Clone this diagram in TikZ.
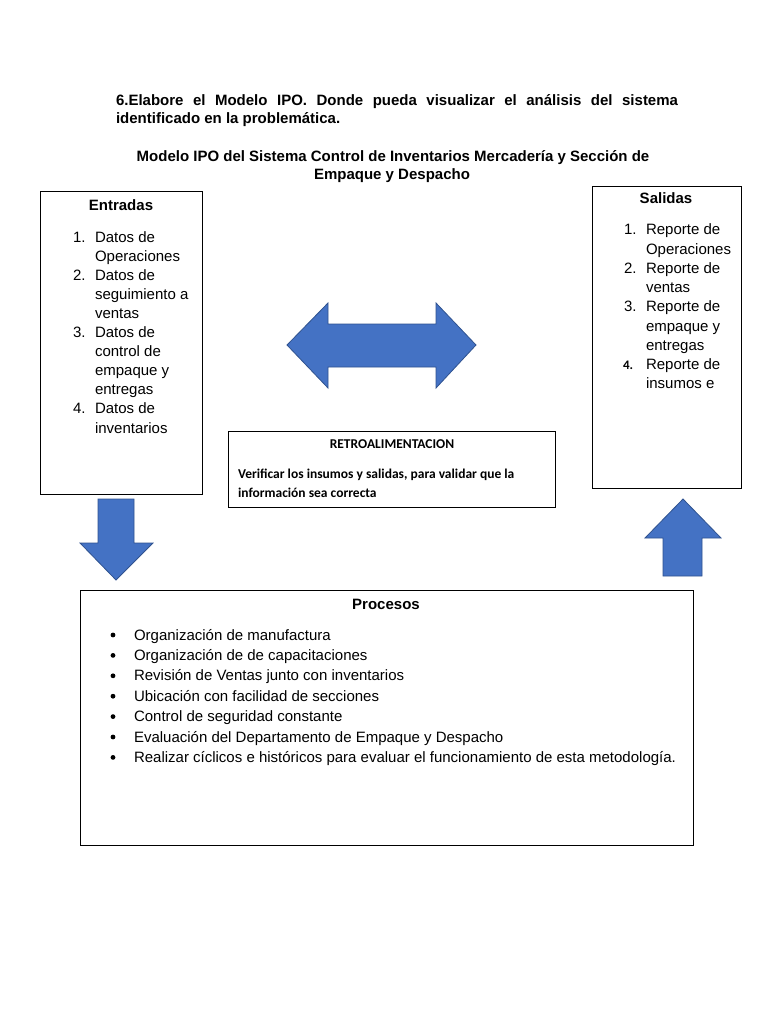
\documentclass[tikz,border=0pt]{standalone}
\usepackage{fontspec}
\setmainfont{Liberation Sans}
\newfontfamily\calfont{Carlito}
\begin{document}
\begin{tikzpicture}[x=1pt,y=-1pt,
  every node/.style={inner sep=0pt,outer sep=0pt},
  txt/.style={anchor=base west,font=\fontsize{15}{18}\selectfont},
  num/.style={anchor=base west,font=\fontsize{15}{18}\selectfont},
  ttl/.style={anchor=base,font=\bfseries\fontsize{15}{18}\selectfont},
  hdr/.style={anchor=base west,font=\bfseries\fontsize{15}{18}\selectfont},
  retro/.style={anchor=base west,font=\calfont\bfseries\fontsize{13.5}{15}\selectfont},
  boxst/.style={draw=black,line width=1pt},
  arrowst/.style={fill=arrowblue,draw=arrowedge,line width=0.8pt,line join=miter}]
\definecolor{arrowblue}{HTML}{4472C4}
\definecolor{arrowedge}{HTML}{2F528F}
\useasboundingbox[fill=white] (0,0) rectangle (768,1024);

% header
\node[hdr] (h1) at (116,106) {\makebox[562pt][s]{6.Elabore el Modelo IPO. Donde pueda visualizar el análisis del sistema}};
\node[hdr] (h2) at (116,124) {identificado en la problemática.};
\node[ttl] (t1) at (393,162) {Modelo IPO del Sistema Control de Inventarios Mercadería y Sección de};
\node[ttl] (t2) at (392,180) {Empaque y Despacho};

% Entradas box
\draw[boxst] (40,192) rectangle (202,494);
\node[ttl] (inT) at (121,211) {Entradas};
\foreach \n/\t [count=\i from 0] in {1./Datos de, /Operaciones, 2./Datos de, /seguimiento a, /ventas, 3./Datos de, /control de, /empaque y, /entregas, 4./Datos de, /inventarios}{
  \node[num] (inN\i) at (73,242+19.1*\i) {\n};
  \node[txt] (inL\i) at (95,242+19.1*\i) {\t};
}

% Salidas box
\draw[boxst] (592,187) rectangle (741,488);
\node[ttl] (outT) at (666,204) {Salidas};
\foreach \n/\t [count=\i from 0] in {1./Reporte de, /Operaciones, 2./Reporte de, /ventas, 3./Reporte de, /empaque y, /entregas}{
  \node[num] (outN\i) at (624,235+19.2*\i) {\n};
  \node[txt] (outL\i) at (646,235+19.2*\i) {\t};
}
\node[anchor=base west,font=\calfont\bfseries\fontsize{13}{15}\selectfont] (outN7) at (623,369.4) {4.};
\node[txt] (outL7) at (646,369.4) {Reporte de};
\node[txt] (outL8) at (646,388.6) {insumos e};

% double arrow
\draw[arrowst] (287,345) -- (328,303) -- (328,324) -- (436,324) -- (436,303) -- (476,345)
  -- (436,388) -- (436,367) -- (328,367) -- (328,388) -- cycle;

% Retroalimentacion box
\draw[boxst] (228,431) rectangle (555,507);
\node[anchor=base,font=\calfont\bfseries\fontsize{13.5}{15}\selectfont] (rT) at (392,448) {RETROALIMENTACION};
\node[retro] (r1) at (238,478) {Verificar los insumos y salidas, para validar que la};
\node[retro] (r2) at (238,497) {información sea correcta};

% down arrow
\draw[arrowst] (98,499) -- (134,499) -- (134,543) -- (153,543) -- (116,580) -- (80,543) -- (98,543) -- cycle;

% up arrow
\draw[arrowst] (663,576) -- (702,576) -- (702,538) -- (721,538) -- (683,499) -- (645,538) -- (663,538) -- cycle;

% Procesos box
\draw[boxst] (80,590) rectangle (693,845);
\node[ttl] (pT) at (386,609) {Procesos};
\foreach \t [count=\i from 0] in {Organización de manufactura, Organización de de capacitaciones, Revisión de Ventas junto con inventarios, Ubicación con facilidad de secciones, Control de seguridad constante, Evaluación del Departamento de Empaque y Despacho, Realizar cíclicos e históricos para evaluar el funcionamiento de esta metodología.}{
  \fill (113,635+20.4*\i) circle (2.4);
  \node[txt] (pL\i) at (134,640+20.4*\i) {\t};
}
\end{tikzpicture}
\end{document}
